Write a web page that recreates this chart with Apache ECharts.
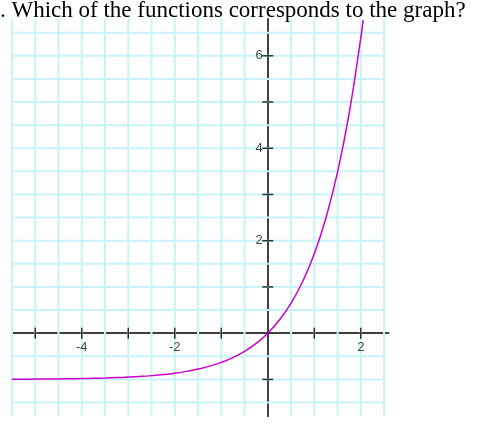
<!DOCTYPE html><html><head><meta charset="utf-8"><script src="https://cdn.jsdelivr.net/npm/echarts@6/dist/echarts.min.js"></script>
<style>body{margin:0;background:#fff}#c{width:480px;height:436px}</style></head><body><div id="c"></div><script>
const curveX=[-5.5,-5.25,-5,-4.75,-4.5,-4.25,-4,-3.75,-3.5,-3.25,-3,-2.75,-2.5,-2.25,-2,-1.75,-1.5,-1.25,-1,-0.75,-0.5,-0.25,0,0.25,0.5,0.75,1,1.25,1.5,1.75,2,2.05];
const curveY=[-0.996,-0.995,-0.993,-0.991,-0.989,-0.986,-0.982,-0.976,-0.970,-0.961,-0.950,-0.936,-0.918,-0.895,-0.865,-0.826,-0.777,-0.713,-0.632,-0.528,-0.393,-0.221,0,0.284,0.649,1.117,1.718,2.490,3.482,4.755,6.389,6.77];
const gridXs=[-5.5,-5,-4.5,-4,-3.5,-3,-2.5,-2,-1.5,-1,-0.5,0.5,1,1.5,2,2.5];
const gridYs=[-1.5,-1,-0.5,0.5,1,1.5,2,2.5,3,3.5,4,4.5,5,5.5,6,6.5];
const xTicks=[-5,-4,-3,-2,-1,1,2];
const xLabels=[-4,-2,2];
const yTicks=[-1,1,2,3,4,5,6];
const yLabels=[2,4,6];
const title='. Which of the functions corresponds to the graph?';
const ch=echarts.init(document.getElementById('c'));
const ax=()=>({type:'value',min:null,splitLine:{show:false},axisTick:{show:false},axisLabel:{show:false},axisLine:{onZero:true,lineStyle:{color:'#000',width:1.5}}});
const lbl={color:'#111',fontSize:13,fontFamily:'Liberation Sans'};
const xa=ax();xa.min=-5.5;xa.max=2.6;
const ya=ax();ya.min=-1.8;ya.max=6.8;
const gridLine=(d)=>({type:'line',data:d,showSymbol:false,silent:true,lineStyle:{color:'#c8f4f8',width:2},z:0});
ch.setOption({
 animation:false,
 graphic:[{type:'text',left:0,top:-1,style:{text:title,font:'23px "Liberation Serif"',fill:'#000'}}],
 grid:{left:12,top:18.8,width:376.7,height:397.6},
 xAxis:xa, yAxis:ya,
 series:[
  ...gridXs.map(v=>gridLine([[v,-1.8],[v,6.8]])),
  ...gridYs.map(v=>gridLine([[-5.5,v],[2.5,v]])),
  {type:'line',data:curveX.map((x,i)=>[x,curveY[i]]),smooth:true,showSymbol:false,lineStyle:{color:'#cc00cc',width:1.5},z:5},
  {type:'scatter',silent:true,symbol:'rect',symbolSize:[1.5,11],itemStyle:{color:'#000'},data:xTicks.map(v=>[v,0]),z:4},
  {type:'scatter',silent:true,symbol:'rect',symbolSize:[11,1.5],itemStyle:{color:'#000'},data:yTicks.map(v=>[0,v]),z:4},
  {type:'scatter',silent:true,symbolSize:0,data:xLabels.map(v=>[v,0]),label:{show:true,position:'bottom',distance:8,formatter:p=>String(p.value[0]),...lbl}},
  {type:'scatter',silent:true,symbolSize:0,data:yLabels.map(v=>[0,v]),label:{show:true,position:'left',distance:5,formatter:p=>String(p.value[1]),...lbl}}
 ]
});
</script></body></html>
